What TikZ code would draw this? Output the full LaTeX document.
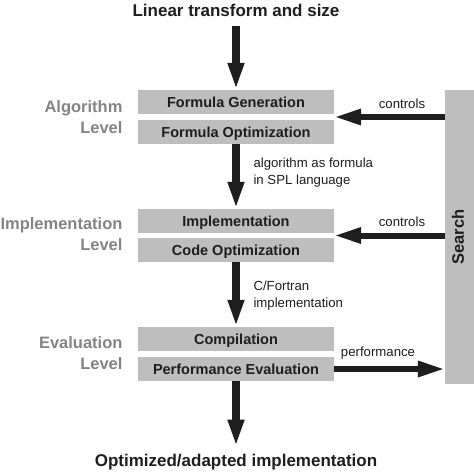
\documentclass[tikz,border=0pt]{standalone}
\usepackage{fontspec}
\setmainfont{Liberation Sans}
\usepackage{xcolor}
\usetikzlibrary{calc}
\usetikzlibrary{arrows.meta}

\definecolor{boxgray}{RGB}{190,190,190}
\definecolor{levelgray}{RGB}{132,132,132}
\definecolor{ink}{RGB}{30,30,30}

\begin{document}
\begin{tikzpicture}[x=1pt,y=-1pt]

\tikzset{
    box/.style = {
    minimum height=24pt,
    minimum width = 196pt,
    inner sep=0pt,
    text height=10.4pt,
    text depth=0pt
    }
}

\tikzstyle{stage}=[fill=boxgray, text=ink, font=\fontsize{14.5}{17}\selectfont\bfseries, box]
\tikzstyle{level}=[text=levelgray, align=right, anchor=east, font=\fontsize{16.5}{21}\selectfont\bfseries]
\tikzstyle{ends}=[text=ink, font=\fontsize{17}{20}\selectfont\bfseries]
\tikzstyle{note}=[text=ink, align=left, anchor=west, font=\fontsize{13.2}{17}\selectfont]
\tikzstyle{flow}=[draw=ink, line width=7.5pt, -{Triangle[length=27pt,width=15pt]}]
\tikzstyle{side}=[draw=ink, line width=6pt, -{Triangle[length=27pt,width=15pt]}]

\useasboundingbox (0,0) rectangle (474,474);

% input and output
\node (input) [ends] at (236,10) {Linear transform and size};
\node (output) [ends] at (236,462) {Optimized/adapted implementation};

% the three levels
\node (fgen) [stage] at (236,102) {Formula Generation};
\node (fopt) [stage] at (236,132) {Formula Optimization};

\node (impl) [stage] at (236,221) {Implementation};
\node (copt) [stage] at (236,250) {Code Optimization};

\node (comp) [stage] at (236,339) {Compilation};
\node (peval) [stage] at (236,369) {Performance Evaluation};

\node (alglevel) [level] at (126,117) {Algorithm\\Level};
\node (implevel) [level] at (126,234) {Implementation\\Level};
\node (evallevel) [level] at (126,353) {Evaluation\\Level};

% search bar
\node (search) [fill=boxgray, minimum width=29pt, minimum height=294pt, inner sep=0pt] at (459.5,237) {};
\node (searchtext) [rotate=90, text=ink, font=\fontsize{16.5}{20}\selectfont\bfseries] at (458,237) {Search};

\coordinate (ctla) at ($(fgen.south east)!0.5!(fopt.north east)$);
\coordinate (ctlb) at ($(impl.south east)!0.5!(copt.north east)$);

% vertical flow
\draw [flow] ([yshift=-6pt]input.south) -- (fgen.north);
\draw [flow] (fopt.south) -- (impl.north);
\draw [flow] (copt.south) -- (comp.north);
\draw [flow] (peval.south) -- ([yshift=4pt]output.north);

% search connections
\draw [side] (search.west |- ctla) -- (ctla);
\draw [side] (search.west |- ctlb) -- (ctlb);
\draw [side] (peval.east) -- (search.west |- peval.east);

% labels
\node (ctlalabel) [text=ink, font=\fontsize{13.2}{17}\selectfont] at (402,104) {controls};
\node (ctlblabel) [text=ink, font=\fontsize{13.2}{17}\selectfont] at (402,222) {controls};
\node (perflabel) [text=ink, font=\fontsize{13.2}{17}\selectfont] at (378,353) {performance};

\node (spl) [note] at (250,173) {algorithm as formula\\in SPL language};
\node (fortran) [note] at (250,296) {C/Fortran\\implementation};

\end{tikzpicture}
\end{document}
